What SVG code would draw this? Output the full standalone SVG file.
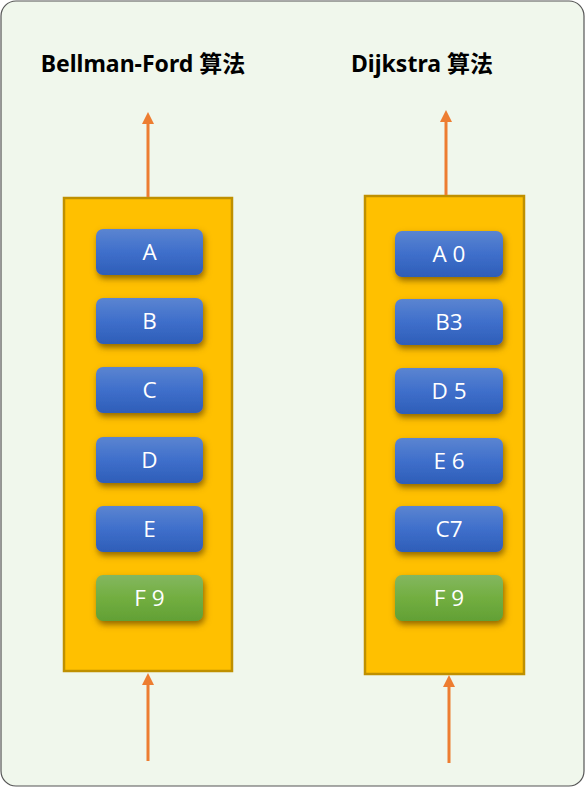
<svg xmlns="http://www.w3.org/2000/svg" width="585" height="787" viewBox="0 0 585 787">
<defs>
<linearGradient id="gBlue" x1="0" y1="0" x2="0" y2="1">
<stop offset="0" stop-color="#5B85D1"/>
<stop offset="0.5" stop-color="#3F6FCB"/>
<stop offset="1" stop-color="#2E5EB8"/>
</linearGradient>
<linearGradient id="gGreen" x1="0" y1="0" x2="0" y2="1">
<stop offset="0" stop-color="#84B760"/>
<stop offset="0.5" stop-color="#72AE40"/>
<stop offset="1" stop-color="#62A035"/>
</linearGradient>
<filter id="sh" x="-20%" y="-20%" width="150%" height="170%">
<feDropShadow dx="1.5" dy="3.5" stdDeviation="3" flood-color="#6B4A00" flood-opacity="0.75"/>
</filter>
<marker id="ah" viewBox="0 0 12 12" refX="4" refY="6" markerWidth="12" markerHeight="12" markerUnits="userSpaceOnUse" orient="auto">
<path d="M0,0 L12,6 L0,12 Z" fill="#ED7D31"/>
</marker>
</defs>
<style>
.title{font-family:"Noto Sans","Noto Sans CJK SC",sans-serif;font-weight:bold;font-size:23px;fill:#000;text-anchor:middle}
.col{fill:#FFC000;stroke:#BF9000;stroke-width:2.5}
.nb{fill:url(#gBlue);filter:url(#sh)}
.ng{fill:url(#gGreen);filter:url(#sh)}
.lbl{font-family:"Open Sans","Noto Sans",sans-serif;font-size:22.5px;fill:#fff;text-anchor:middle}
.conn{stroke:#ED7D31;stroke-width:3;fill:none}
</style>
<rect x="1" y="1" width="583" height="785" rx="15" fill="#F0F7EC" stroke="#555" stroke-width="1.2"/>
<g id="titles">
<text class="title" x="143" y="72">Bellman-Ford 算法</text>
<text class="title" x="422" y="72">Dijkstra 算法</text>
</g>
<g id="bf-column"><rect class="col" x="64" y="198" width="168" height="473"/></g>
<g id="dj-column"><rect class="col" x="365" y="196" width="159" height="478"/></g>
<g id="bf-A"><rect class="nb" x="96" y="229" width="107" height="46" rx="7"/><text class="lbl" x="149.5" y="260">A</text></g>
<g id="bf-B"><rect class="nb" x="96" y="298" width="107" height="46" rx="7"/><text class="lbl" x="149.5" y="329">B</text></g>
<g id="bf-C"><rect class="nb" x="96" y="367" width="107" height="46" rx="7"/><text class="lbl" x="149.5" y="398">C</text></g>
<g id="bf-D"><rect class="nb" x="96" y="437" width="107" height="46" rx="7"/><text class="lbl" x="149.5" y="468">D</text></g>
<g id="bf-E"><rect class="nb" x="96" y="506" width="107" height="46" rx="7"/><text class="lbl" x="149.5" y="537">E</text></g>
<g id="bf-F"><rect class="ng" x="96" y="575" width="107" height="46" rx="7"/><text class="lbl" x="149.5" y="606">F 9</text></g>
<g id="dj-A"><rect class="nb" x="395" y="231" width="108" height="46" rx="7"/><text class="lbl" x="449" y="262">A 0</text></g>
<g id="dj-B"><rect class="nb" x="395" y="299" width="108" height="46" rx="7"/><text class="lbl" x="449" y="330">B3</text></g>
<g id="dj-D"><rect class="nb" x="395" y="368" width="108" height="46" rx="7"/><text class="lbl" x="449" y="399">D 5</text></g>
<g id="dj-E"><rect class="nb" x="395" y="438" width="108" height="46" rx="7"/><text class="lbl" x="449" y="469">E 6</text></g>
<g id="dj-C"><rect class="nb" x="395" y="506" width="108" height="46" rx="7"/><text class="lbl" x="449" y="537">C7</text></g>
<g id="dj-F"><rect class="ng" x="395" y="575" width="108" height="46" rx="7"/><text class="lbl" x="449" y="606">F 9</text></g>
<g id="connectors">
<line class="conn" x1="148" y1="197" x2="148" y2="120" marker-end="url(#ah)"/>
<line class="conn" x1="148" y1="761" x2="148" y2="681" marker-end="url(#ah)"/>
<line class="conn" x1="446" y1="195" x2="446" y2="118" marker-end="url(#ah)"/>
<line class="conn" x1="449" y1="763" x2="449" y2="683" marker-end="url(#ah)"/>
</g>
</svg>
